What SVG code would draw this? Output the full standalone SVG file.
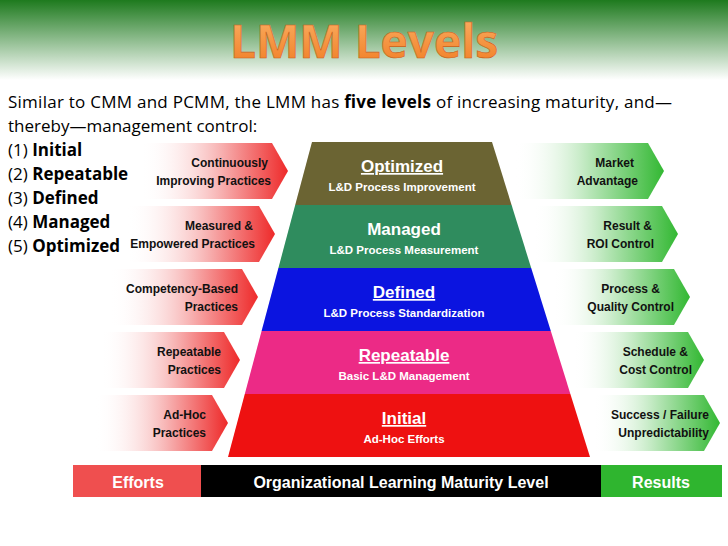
<svg xmlns="http://www.w3.org/2000/svg" width="728" height="546" viewBox="0 0 728 546">
<defs>
<linearGradient id="hdr" x1="0" y1="0" x2="0" y2="1"><stop offset="0" stop-color="#1e7a1e"/><stop offset="1" stop-color="#ffffff"/></linearGradient>
<linearGradient id="ttl" x1="0" y1="0" x2="0" y2="1"><stop offset="0" stop-color="#fbb46a"/><stop offset="1" stop-color="#f07a20"/></linearGradient>
<linearGradient id="red" x1="0" y1="0" x2="1" y2="0"><stop offset="0" stop-color="#fff" stop-opacity="0"/><stop offset="0.55" stop-color="#f7b0b0"/><stop offset="1" stop-color="#ee2a2a"/></linearGradient>
<linearGradient id="grn" x1="0" y1="0" x2="1" y2="0"><stop offset="0" stop-color="#fff" stop-opacity="0"/><stop offset="0.5" stop-color="#b8e6b8"/><stop offset="1" stop-color="#33b833"/></linearGradient>
<style>
.b{font-family:"Open Sans","Liberation Sans",sans-serif;font-size:17px;fill:#000}
.a{font-family:"Liberation Sans",Arial,sans-serif;font-size:12px;fill:#111;font-weight:bold}
.t{font-family:"Liberation Sans",Arial,sans-serif;font-size:17px;fill:#fff;font-weight:bold;text-anchor:middle;text-decoration:underline}
.s{font-family:"Liberation Sans",Arial,sans-serif;font-size:11.5px;fill:#fff;font-weight:bold;text-anchor:middle}
.f{font-family:"Liberation Sans",Arial,sans-serif;font-size:16px;fill:#fff;font-weight:bold;text-anchor:middle}
</style>
</defs>
<rect width="728" height="546" fill="#fff"/>
<rect width="728" height="80" fill="url(#hdr)"/>
<text x="364" y="58" text-anchor="middle" font-family="Open Sans, Liberation Sans, sans-serif" font-size="46" font-weight="bold" fill="url(#ttl)" stroke="#c8601a" stroke-width="0.6">LMM Levels</text>
<text class="b" x="8" y="108" textLength="664">Similar to CMM and PCMM, the LMM has <tspan font-weight="bold">five levels</tspan> of increasing maturity, and—</text>
<text class="b" x="8" y="132">thereby—management control:</text>
<text class="b" x="8" y="156">(1) <tspan font-weight="bold">Initial</tspan></text>
<text class="b" x="8" y="180">(2) <tspan font-weight="bold">Repeatable</tspan></text>
<text class="b" x="8" y="204">(3) <tspan font-weight="bold">Defined</tspan></text>
<text class="b" x="8" y="228">(4) <tspan font-weight="bold">Managed</tspan></text>
<text class="b" x="8" y="252">(5) <tspan font-weight="bold">Optimized</tspan></text>
<g id="left-arrows">
<polygon points="140,143 272,143 288,171 272,199 140,199" fill="url(#red)"/>
<polygon points="127,206 259,206 275,234 259,262 127,262" fill="url(#red)"/>
<polygon points="110,269 242,269 258,297 242,325 110,325" fill="url(#red)"/>
<polygon points="100,332 224,332 240,360 224,388 100,388" fill="url(#red)"/>
<polygon points="95,395 212,395 228,423 212,451 95,451" fill="url(#red)"/>
<text class="a" text-anchor="end" x="268" y="167">Continuously</text><text class="a" text-anchor="end" x="271" y="185">Improving Practices</text>
<text class="a" text-anchor="end" x="253" y="230">Measured &amp;</text><text class="a" text-anchor="end" x="255" y="248">Empowered Practices</text>
<text class="a" text-anchor="end" x="238" y="293">Competency-Based</text><text class="a" text-anchor="end" x="238" y="311">Practices</text>
<text class="a" text-anchor="end" x="221" y="356">Repeatable</text><text class="a" text-anchor="end" x="221" y="374">Practices</text>
<text class="a" text-anchor="end" x="206" y="419">Ad-Hoc</text><text class="a" text-anchor="end" x="206" y="437">Practices</text>
</g>
<g id="right-arrows">
<polygon points="515,143 648,143 664,171 648,199 515,199" fill="url(#grn)"/>
<polygon points="533,206 662,206 678,234 662,262 533,262" fill="url(#grn)"/>
<polygon points="553,269 674,269 690,297 674,325 553,325" fill="url(#grn)"/>
<polygon points="573,332 688,332 704,360 688,388 573,388" fill="url(#grn)"/>
<polygon points="593,395 704,395 720,423 704,451 593,451" fill="url(#grn)"/>
<text class="a" text-anchor="end" x="634" y="167">Market</text><text class="a" text-anchor="end" x="638" y="185">Advantage</text>
<text class="a" text-anchor="end" x="652" y="230">Result &amp;</text><text class="a" text-anchor="end" x="654" y="248">ROI Control</text>
<text class="a" text-anchor="end" x="660" y="293">Process &amp;</text><text class="a" text-anchor="end" x="674" y="311">Quality Control</text>
<text class="a" text-anchor="end" x="688" y="356">Schedule &amp;</text><text class="a" text-anchor="end" x="692" y="374">Cost Control</text>
<text class="a" text-anchor="end" x="709" y="419">Success / Failure</text><text class="a" text-anchor="end" x="709" y="437">Unpredictability</text>
</g>
<g id="optimized"><polygon points="312,142 492,142 511.6,205 295.2,205" fill="#6b6433"/>
<text class="t" x="402" y="172">Optimized</text><text class="s" x="402" y="191">L&amp;D Process Improvement</text></g>
<g id="managed"><polygon points="295.2,205 511.6,205 531.2,268 278.4,268" fill="#2f8c5e"/>
<text class="t" x="404" y="235" style="text-decoration:none">Managed</text><text class="s" x="404" y="254">L&amp;D Process Measurement</text></g>
<g id="defined"><polygon points="278.4,268 531.2,268 550.8,331 261.6,331" fill="#0b14e0"/>
<text class="t" x="404" y="298">Defined</text><text class="s" x="404" y="317">L&amp;D Process Standardization</text></g>
<g id="repeatable"><polygon points="261.6,331 550.8,331 570.4,394 244.8,394" fill="#ec2a86"/>
<text class="t" x="404" y="361">Repeatable</text><text class="s" x="404" y="380">Basic L&amp;D Management</text></g>
<g id="initial"><polygon points="244.8,394 570.4,394 590,457 228,457" fill="#ee1111"/>
<text class="t" x="404" y="424">Initial</text><text class="s" x="404" y="443">Ad-Hoc Efforts</text></g>
<g id="bar">
<rect x="73" y="465" width="128" height="32" fill="#ef4f4f"/>
<rect x="201" y="465" width="400" height="32" fill="#000"/>
<rect x="601" y="465" width="121" height="32" fill="#2fb52f"/>
<text class="f" x="138" y="488">Efforts</text>
<text class="f" x="401" y="488">Organizational Learning Maturity Level</text>
<text class="f" x="661" y="488">Results</text>
</g>
</svg>
